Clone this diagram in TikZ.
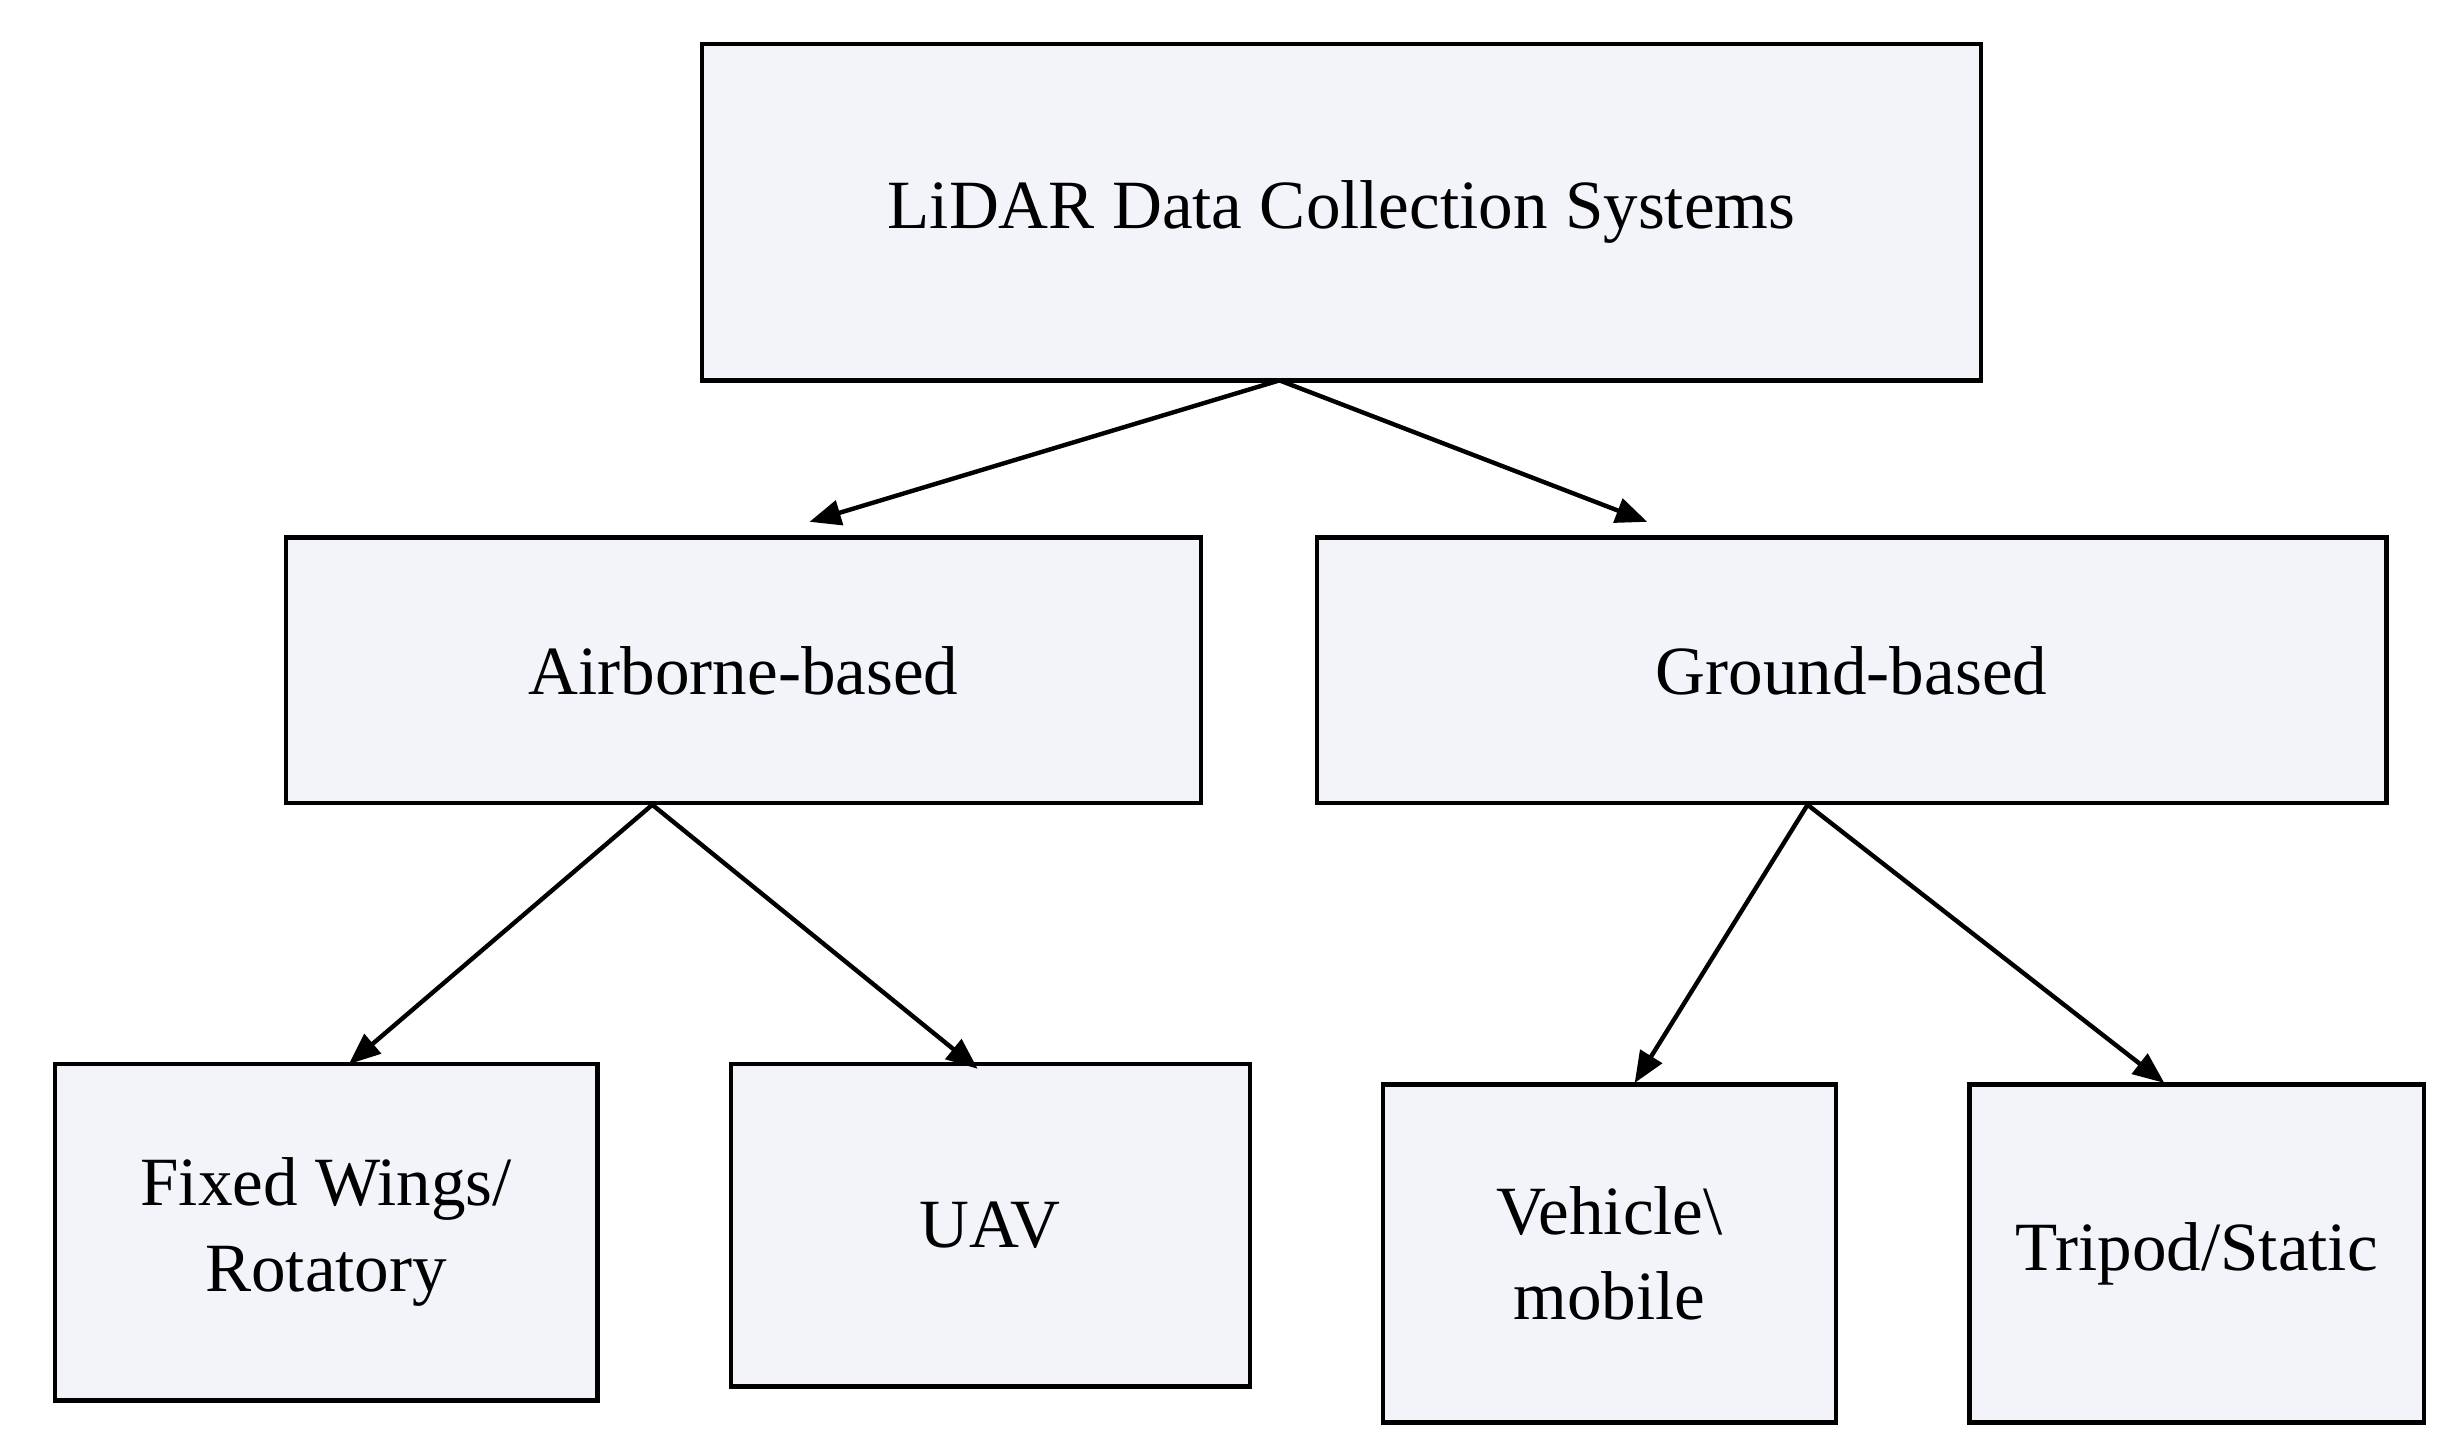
\documentclass[tikz,border=0pt]{standalone}
\usepackage{fontspec}
\setmainfont{Liberation Serif}
\usetikzlibrary{arrows.meta}
\begin{document}
\begin{tikzpicture}[x=0.01cm,y=-0.01cm,
  box/.style={draw,line width=0.8pt,fill={rgb,255:red,243;green,244;blue,249},align=center,inner sep=0pt,font=\fontsize{12.5}{15.5}\selectfont},
  arr/.style={-{Triangle[length=0.2cm,width=0.16cm]},line width=0.8pt}]
\useasboundingbox (0,0) rectangle (1560,924);
\node[box,minimum width=8.13cm,minimum height=2.14cm] (top) at (853.5,135) {LiDAR Data Collection Systems};
\node[box,minimum width=5.82cm,minimum height=1.69cm] (air) at (473,426.5) {Airborne-based};
\node[box,minimum width=6.80cm,minimum height=1.69cm] (gnd) at (1178,426.5) {Ground-based};
\node[box,minimum width=3.45cm,minimum height=2.14cm] (fix) at (207.5,784) {Fixed Wings/\\Rotatory};
\node[box,minimum width=3.30cm,minimum height=2.05cm] (uav) at (630,779.5) {UAV};
\node[box,minimum width=2.88cm,minimum height=2.15cm] (veh) at (1024,797.5) {Vehicle\textbackslash\\mobile};
\node[box,minimum width=2.89cm,minimum height=2.15cm] (tri) at (1397.5,797.5) {Tripod/Static};
\coordinate (t0) at (814,242);
\coordinate (a0) at (415,512);
\coordinate (g0) at (1150,512);
\draw[arr] (t0) -- (515,332) coordinate (ea);
\draw[arr] (t0) -- (1048,332) coordinate (eg);
\draw[arr] (a0) -- (222,677);
\draw[arr] (a0) -- (622,680);
\draw[arr] (g0) -- (1040,689);
\draw[arr] (g0) -- (1377,689);
\end{tikzpicture}
\end{document}
